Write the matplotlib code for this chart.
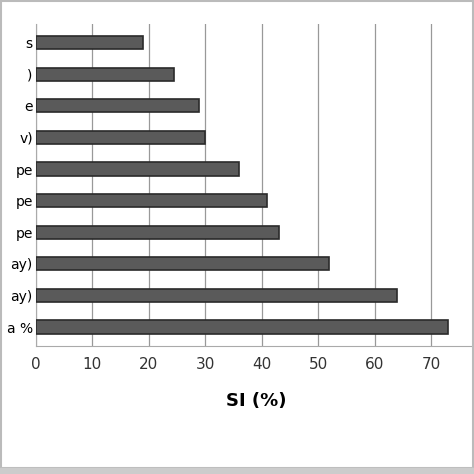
import matplotlib.pyplot as plt
import numpy as np

labels = ["s", ")", "e", "v)", "pe", "pe", "pe", "ay)", "ay)", "a %"]
values = [19, 24.5, 29, 30, 36, 41, 43, 52, 64, 73]
ticks = [0, 10, 20, 30, 40, 50, 60, 70]

fig = plt.figure(figsize=(4.74, 4.74), dpi=100)
fig.patch.set_facecolor("white")
ax = fig.add_axes([0.075, 0.27, 0.93, 0.68])
y = np.arange(len(labels))[::-1]
ax.barh(y, values, height=0.42, color="#5a5a5a", edgecolor="#2a2a2a", linewidth=1.2, zorder=3)
ax.set_yticks(y)
ax.set_yticklabels(labels, fontsize=10)
ax.tick_params(axis="y", pad=2, length=0)
ax.set_xlim(0, 78)
ax.set_ylim(-0.6, len(labels) - 0.4)
ax.set_xticks(ticks)
ax.set_xticklabels([str(t) for t in ticks], fontsize=11, color="#333333")
ax.tick_params(axis="x", length=0, pad=8)
ax.grid(axis="x", color="#999999", linewidth=0.9, zorder=0)
for s in ["top", "right"]:
    ax.spines[s].set_visible(False)
ax.spines["left"].set_color("#aaaaaa")
ax.spines["bottom"].set_color("#aaaaaa")
ax.set_xlabel("SI (%)", fontsize=13, fontweight="bold", labelpad=14)
fig.add_artist(plt.Rectangle((0.002, 0.012), 0.996, 0.985, fill=False, edgecolor="#bbbbbb", linewidth=1.5, transform=fig.transFigure))
fig.add_artist(plt.Rectangle((0, 0), 1, 0.012, color="#cccccc", transform=fig.transFigure))
fig.savefig("out.png", dpi=100)
